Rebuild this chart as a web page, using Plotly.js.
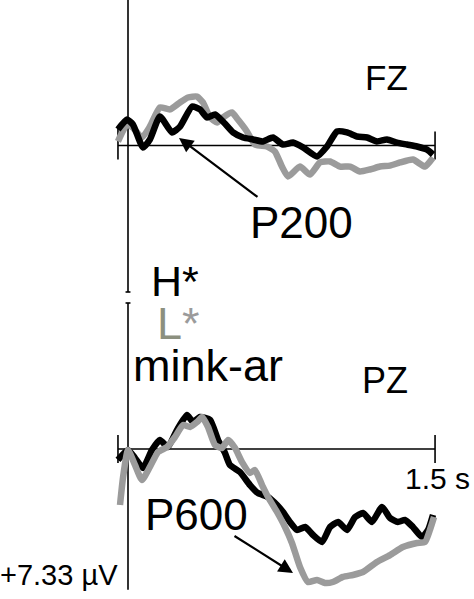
<!DOCTYPE html>
<html>
<head>
<meta charset="utf-8">
<script src="https://cdn.plot.ly/plotly-3.0.1.min.js"></script>
<style>html,body{margin:0;padding:0;background:#fff;}#chart{width:474px;height:599px;}</style>
</head>
<body>
<div id="chart"></div>
<script>
// ---- Data (time in s, amplitude in µV; positive plotted downward) ----
const fzHighT = [-0.049,-0.005,0.024,0.073,0.107,0.156,0.215,0.254,0.313,0.352,0.386,0.425,0.464,0.513,0.562,0.611,0.659,0.708,0.757,0.806,0.855,0.923,0.972,1.021,1.070,1.119,1.168,1.216,1.265,1.314,1.363,1.412,1.461,1.490];
const fzHighV = [-0.82,-1.33,-1.08,0.10,-0.31,-1.49,-0.67,-0.97,-2.00,-1.85,-1.44,-1.59,-1.23,-0.67,-0.41,-0.31,-0.21,-0.41,-0.05,-0.15,0.10,0.56,0.05,-0.72,-0.67,-0.46,-0.41,-0.21,-0.31,-0.15,-0.05,0.05,0.21,0.46];

const fzLowT = [-0.049,-0.005,0.024,0.068,0.107,0.156,0.205,0.254,0.293,0.337,0.366,0.401,0.435,0.464,0.508,0.537,0.581,0.620,0.679,0.718,0.752,0.782,0.840,0.889,0.938,0.987,1.036,1.085,1.133,1.182,1.231,1.280,1.329,1.392,1.451,1.490];
const fzLowV = [-0.21,-1.08,-0.92,-0.41,-0.97,-1.95,-1.85,-2.21,-2.46,-2.51,-2.21,-1.44,-1.18,-1.44,-1.69,-1.33,-0.72,-0.05,0.05,0.31,1.08,1.59,1.08,1.49,0.87,0.82,1.08,1.08,1.33,1.23,1.08,1.03,0.87,0.72,1.08,0.62];

const pzHighT = [-0.049,0.000,0.034,0.073,0.117,0.156,0.195,0.239,0.288,0.318,0.352,0.401,0.440,0.474,0.498,0.547,0.596,0.635,0.684,0.728,0.757,0.791,0.826,0.865,0.904,0.948,0.987,1.026,1.070,1.109,1.148,1.192,1.241,1.280,1.319,1.353,1.392,1.436,1.466,1.490];
const pzHighV = [0.56,0.05,0.46,0.97,0.05,-0.46,-0.10,-0.97,-1.74,-1.38,-1.64,-1.49,-0.46,0.21,0.82,1.18,1.85,2.26,2.46,2.87,3.23,3.74,4.15,4.00,4.41,4.77,4.00,3.74,4.15,3.49,3.28,3.74,2.97,3.54,3.74,3.64,4.00,4.51,4.15,3.38];

const pzLowT = [-0.039,-0.024,0.000,0.034,0.068,0.107,0.147,0.191,0.230,0.269,0.303,0.337,0.362,0.391,0.425,0.459,0.489,0.523,0.557,0.596,0.620,0.655,0.684,0.728,0.767,0.801,0.840,0.879,0.923,0.962,1.001,1.050,1.099,1.148,1.216,1.280,1.343,1.412,1.451,1.475,1.495];
const pzLowV = [2.87,1.44,0.05,0.82,1.59,0.92,0.15,-0.10,-0.62,-1.23,-1.13,-1.38,-1.64,-1.13,-0.21,-0.05,-0.46,-0.05,0.67,1.23,1.08,1.85,2.46,3.23,4.00,4.82,6.05,6.82,6.72,6.87,6.82,6.56,6.46,6.31,5.79,5.44,5.03,4.82,4.77,4.15,3.49];

const electrodeLabels = ["FZ", "PZ"];
const componentLabels = ["P200", "P600"];
const conditionLabels = ["H*", "L*", "mink-ar"];
const timeEndLabel = "1.5 s";
const ampLabel = "+7.33 µV";
const epochStart = -0.049, epochEnd = 1.5;
const ampExtent = 7.33;

// ---- Layout geometry (pixels) ----
const W = 474, H = 599;
const X0 = 128, PXS = 204.7;   // px of t=0, px per second
const VS = 19.5;               // px per µV
const BT = 145.5, BB = 449;    // baselines (px)
const SPLIT = 300;
const tOf = px => (px - X0) / PXS;
const vOf = (py, base) => (py - base) / VS;
const px = x => x / W, py = y => 1 - y / H;

const BLACK = '#000000', GRAY = '#9b9b9b', OLIVE = '#8c907f';
const FONT = 'Liberation Sans, Arial, sans-serif';

function tr(t, v, color, yax) {
  return {x: t, y: v, type: 'scatter', mode: 'lines', xaxis: 'x', yaxis: yax,
          line: {color: color, width: 6.5, shape: 'spline', smoothing: 0.5},
          hoverinfo: 'skip', showlegend: false};
}
const data = [
  tr(fzLowT, fzLowV, GRAY, 'y'),
  tr(fzHighT, fzHighV, BLACK, 'y'),
  tr(pzHighT, pzHighV, BLACK, 'y2'),
  tr(pzLowT, pzLowV, GRAY, 'y2')
];

function seg(x0, y0, x1, y1, yref, w) {
  return {type: 'line', xref: 'x', yref: yref, x0: x0, y0: y0, x1: x1, y1: y1,
          line: {color: '#000', width: w || 1.6}, layer: 'below'};
}
const tk = 14 / VS;
const shapes = [
  // top panel axes
  seg(0, vOf(0, BT), 0, vOf(292, BT), 'y'),
  seg(-0.012, vOf(292, BT), 0.012, vOf(292, BT), 'y'),
  seg(epochStart, 0, epochEnd, 0, 'y'),
  seg(epochStart, -19 / VS, epochStart, tk, 'y'),
  seg(epochEnd, -tk, epochEnd, tk, 'y'),
  // bottom panel axes
  seg(0, vOf(303, BB), 0, ampExtent * 0.985, 'y2'),
  seg(-0.012, vOf(303, BB), 0.012, vOf(303, BB), 'y2'),
  seg(epochStart, 0, epochEnd, 0, 'y2'),
  seg(epochStart, -tk, epochStart, tk, 'y2'),
  seg(epochEnd, -tk, epochEnd, tk, 'y2')
];

function txt(text, x, y, size, anchor, color) {
  return {text: text, xref: 'paper', yref: 'paper', x: px(x), y: py(y),
          xanchor: anchor || 'center', yanchor: 'middle', showarrow: false, borderpad: 0,
          font: {family: FONT, size: size, color: color || '#000'}};
}
const annotations = [
  txt(electrodeLabels[0], 386, 77, 35),
  txt(electrodeLabels[1], 385, 380, 36),
  txt(componentLabels[0], 301, 222, 44),
  txt(componentLabels[1], 196, 514, 44),
  txt(conditionLabels[0], 150, 281, 43, 'left'),
  txt('<span style="color:' + OLIVE + '">L</span><span style="color:' + GRAY + '">*</span>', 156, 324, 45, 'left'),
  txt(conditionLabels[2], 132, 365, 45, 'left'),
  txt(timeEndLabel, 437, 478, 30),
  txt(ampLabel, -1, 575, 29, 'left'),
  // arrows
  {text: '', xref: 'x', yref: 'y', x: tOf(179), y: vOf(138, BT), ax: 80, ay: 60,
   showarrow: true, arrowhead: 2, arrowsize: 1.3, arrowwidth: 2.2, arrowcolor: '#000'},
  {text: '', xref: 'x', yref: 'y2', x: tOf(293), y: vOf(573, BB), ax: -60, ay: -38,
   showarrow: true, arrowhead: 2, arrowsize: 1.3, arrowwidth: 2.2, arrowcolor: '#000'}
];

const layout = {
  width: W, height: H,
  margin: {l: 0, r: 0, t: 0, b: 0},
  paper_bgcolor: '#fff', plot_bgcolor: '#fff',
  showlegend: false,
  xaxis: {range: [tOf(0), tOf(W)], visible: false, fixedrange: true},
  yaxis: {domain: [1 - SPLIT / H, 1], range: [vOf(SPLIT, BT), vOf(0, BT)], visible: false, anchor: 'x'},
  yaxis2: {domain: [0, 1 - SPLIT / H], range: [vOf(H, BB), vOf(SPLIT, BB)], visible: false, anchor: 'x'},
  shapes: shapes,
  annotations: annotations
};

Plotly.newPlot('chart', data, layout, {staticPlot: true, displayModeBar: false});
</script>
</body>
</html>
